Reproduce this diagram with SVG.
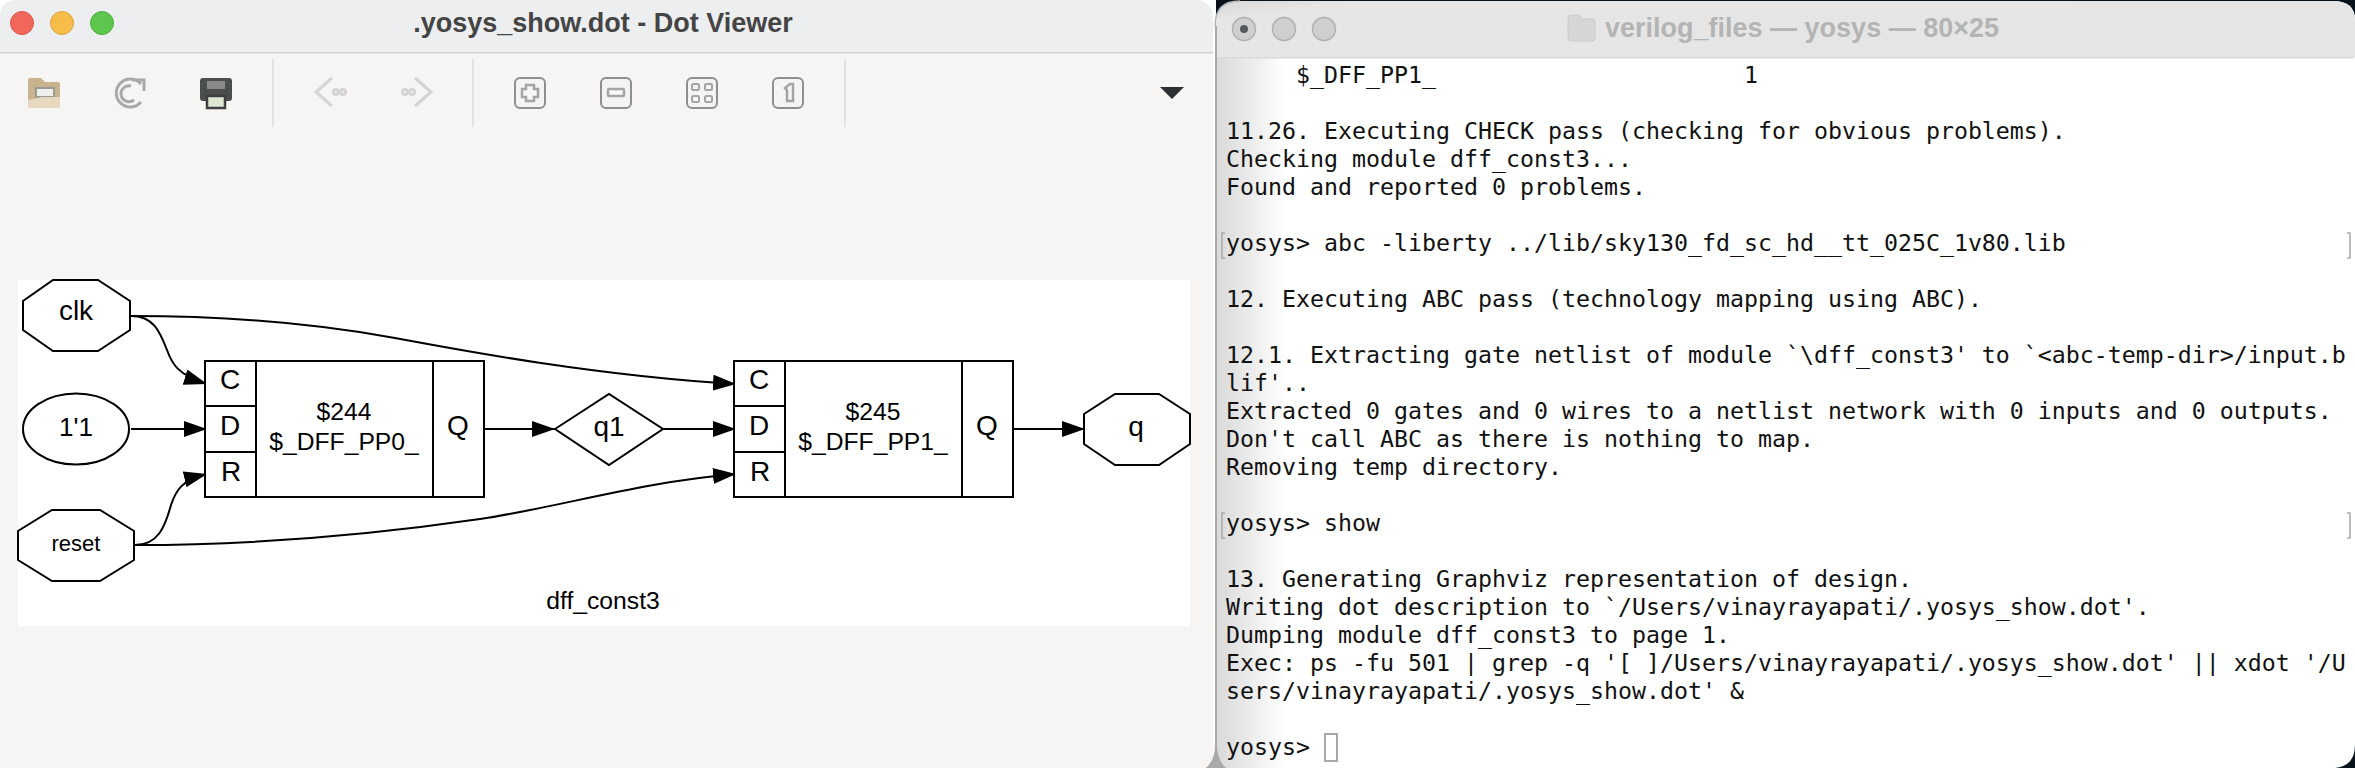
<svg xmlns="http://www.w3.org/2000/svg" width="2355" height="768" viewBox="0 0 2355 768">
<style>
.g{font-family:"Liberation Sans",Arial,sans-serif;fill:#000;text-anchor:middle;font-size:24.7px}
.p{font-size:28px}
.s{fill:#fff;stroke:#000;stroke-width:2}
.b{fill:none;stroke:#000;stroke-width:2}
.w{fill:none;stroke:#000;stroke-width:2}
.t{font-family:"DejaVu Sans Mono",monospace;font-size:23.25px;fill:#111;white-space:pre}
.mk{fill:none;stroke:#a8a8a8;stroke-width:1.5}
.btn{fill:#f4f4f3;stroke:#8f8f8f;stroke-width:2}
.ic{fill:#f6f6f6;stroke:#a4a4a4;stroke-width:2.5}
.ch{fill:none;stroke:#d4d4d4;stroke-width:3}
.sep{stroke:#dcdbd9;stroke-width:1.5}
</style>
<defs>
<marker id="a" markerUnits="userSpaceOnUse" markerWidth="24" markerHeight="16" refX="23" refY="8" orient="auto"><path d="M0 0L23 8L0 16Z" fill="#000"/></marker>
<linearGradient id="sh" x1="0" x2="1" y1="0" y2="0"><stop offset="0" stop-color="#d9d9d9"/><stop offset="1" stop-color="#fff"/></linearGradient>
<linearGradient id="tb" x1="0" x2="1" y1="0" y2="0.4"><stop offset="0" stop-color="#d8d8d8"/><stop offset="0.12" stop-color="#e6e6e6"/><stop offset="1" stop-color="#e5e5e5"/></linearGradient>
<filter id="bl" x="-10%" y="-10%" width="120%" height="120%"><feGaussianBlur stdDeviation="0.7"/></filter>
</defs>

<g id="backdrop">
<rect width="2355" height="768" fill="#06121c"/>
<rect width="1216" height="768" fill="#fff"/>
</g>

<g id="dot-viewer-window">
<path d="M0 18Q0 0 18 0H1195Q1213 0 1213 20V768H0Z" fill="#f6f5f4"/>
<path d="M0 18Q0 0 18 0H1195Q1213 0 1213 20V52H0Z" fill="#edeef0"/>
<rect y="52" width="1213" height="1.5" fill="#d6d4d2"/>
<circle cx="22" cy="23" r="11.5" fill="#f2675c" stroke="#dd5448"/>
<circle cx="62" cy="23" r="11.5" fill="#f7bd4b" stroke="#dea234"/>
<circle cx="102" cy="23" r="11.5" fill="#5dc64e" stroke="#4dae3f"/>
<text x="603" y="32" text-anchor="middle" font-family="Liberation Sans, Arial, sans-serif" font-weight="700" font-size="27" fill="#444">.yosys_show.dot - Dot Viewer</text>
<g id="toolbar">
<line class="sep" x1="273" y1="59" x2="273" y2="127"/>
<line class="sep" x1="473" y1="59" x2="473" y2="127"/>
<line class="sep" x1="845" y1="59" x2="845" y2="127"/>
<g filter="url(#bl)">
<path d="M28 80Q28 78 30 78H41L45 82H58Q60 82 60 84V106Q60 108 58 108H30Q28 108 28 106Z" fill="#c7b48f"/>
<rect x="36" y="88" width="18" height="9" fill="#eee" stroke="#9a9a90" stroke-width="2"/>
<path d="M28 100L42 97H60V106Q60 108 58 108H30Q28 108 28 106Z" fill="#e6d9bf"/>
<path d="M141 84A14 14 0 1 0 141 102M131 86A8 8 0 1 0 134 100" fill="none" stroke="#a9a9a9" stroke-width="3"/>
<path d="M132 80H144V91" fill="none" stroke="#a9a9a9" stroke-width="3"/>
<rect x="200" y="78" width="32" height="23" rx="3" fill="#4a4d4d"/>
<rect x="207" y="81" width="18" height="8" fill="#8a8a8a"/>
<rect x="207" y="96" width="18" height="12" fill="#dfe8d4" stroke="#3c3f3f" stroke-width="2.5"/>
<path class="ch" d="M332 78L316 92L332 106"/>
<circle cx="336" cy="92" r="2.5" class="ch" stroke-width="1.5"/><circle cx="343" cy="92" r="2.5" class="ch" stroke-width="1.5"/>
<path class="ch" d="M415 78L431 92L415 106"/>
<circle cx="405" cy="92" r="2.5" class="ch" stroke-width="1.5"/><circle cx="412" cy="92" r="2.5" class="ch" stroke-width="1.5"/>
<rect class="btn" x="515" y="78" width="30" height="30" rx="5"/>
<path class="ic" d="M526 85H534V89H538V97H534V101H526V97H522V89H526Z"/>
<rect class="btn" x="601" y="78" width="30" height="30" rx="5"/>
<rect class="ic" x="608" y="89" width="16" height="7" rx="1"/>
<rect class="btn" x="687" y="78" width="30" height="30" rx="5"/>
<g class="ic" style="stroke-width:2">
<rect x="692" y="84" width="7" height="6" rx="1.5"/><rect x="705" y="84" width="7" height="6" rx="1.5"/>
<rect x="692" y="96" width="7" height="6" rx="1.5"/><rect x="705" y="96" width="7" height="6" rx="1.5"/>
</g>
<rect class="btn" x="773" y="78" width="30" height="30" rx="5"/>
<path class="ic" d="M785 88L790 84H793V101H787V90Z"/>
</g>
<path d="M1160 87H1184L1172 99Z" fill="#2d2f33"/>
</g>
</g>

<rect id="graph-canvas" x="18" y="280" width="1172" height="346" fill="#fff"/>

<g id="connectors">
<path class="w" marker-end="url(#a)" d="M131 316C154 316 160 332 167 350C172 364 178 375 207 384"/>
<path class="w" marker-end="url(#a)" d="M131 316C250 316 330 326 395 338C470 352 600 376 736 384"/>
<path class="w" marker-end="url(#a)" d="M131 429H207"/>
<path class="w" marker-end="url(#a)" d="M135 545C158 545 165 527 171 505C176 490 182 480 207 474"/>
<path class="w" marker-end="url(#a)" d="M135 545C250 545 370 535 480 519C560 507 640 482 736 474"/>
<path class="w" marker-end="url(#a)" d="M485 429H555"/>
<path class="w" marker-end="url(#a)" d="M663 429H736"/>
<path class="w" marker-end="url(#a)" d="M1013 429H1085"/>
</g>

<g id="node-clk">
<path class="s" d="M53 280H98L130 301V330L98 351H53L23 330V301Z"/>
<text class="g p" x="76" y="320">clk</text>
</g>
<g id="node-const">
<ellipse class="s" cx="76" cy="429" rx="53" ry="35.5"/>
<text class="g" style="font-size:26px" x="76" y="436">1'1</text>
</g>
<g id="node-reset">
<path class="s" d="M52 510H100L134 531V560L100 581H52L18 560V531Z"/>
<text class="g" style="font-size:22px" x="76" y="551">reset</text>
</g>
<g id="node-dff0">
<rect class="s" x="205" y="361" width="279" height="136"/>
<path class="b" d="M256 361V497M433 361V497M205 406H256M205 452H256"/>
<text class="g p" x="230" y="389">C</text>
<text class="g p" x="230" y="435">D</text>
<text class="g p" x="231" y="481">R</text>
<text class="g" x="344" y="420">$244</text>
<text class="g" x="344" y="450">$_DFF_PP0_</text>
<text class="g p" x="458" y="435">Q</text>
</g>
<g id="node-q1">
<path class="s" d="M555 429L609 394L663 429L609 465Z"/>
<text class="g p" x="609" y="436">q1</text>
</g>
<g id="node-dff1">
<rect class="s" x="734" y="361" width="279" height="136"/>
<path class="b" d="M785 361V497M962 361V497M734 406H785M734 452H785"/>
<text class="g p" x="759" y="389">C</text>
<text class="g p" x="759" y="435">D</text>
<text class="g p" x="760" y="481">R</text>
<text class="g" x="873" y="420">$245</text>
<text class="g" x="873" y="450">$_DFF_PP1_</text>
<text class="g p" x="987" y="435">Q</text>
</g>
<g id="node-q">
<path class="s" d="M1115 394H1159L1190 414V444L1159 465H1115L1084 444V414Z"/>
<text class="g p" x="1136" y="436">q</text>
</g>
<text class="g" x="603" y="609">dff_const3</text>

<g id="terminal-window">
<path d="M1215 26Q1215 1 1240 1H2333Q2355 1 2355 20V745Q2355 766 2335 768H1215Z" fill="#fff"/>
<path d="M1215 26Q1215 1 1240 1H2333Q2355 1 2355 20V57H1215Z" fill="url(#tb)"/>
<rect x="1216" y="58" width="70" height="710" fill="url(#sh)"/>
<rect x="1215" y="57" width="1139" height="1.5" fill="#d9d9d9"/>
<path d="M1215 26Q1215 1 1240 1" fill="none" stroke="#b8b8b8" stroke-width="1.5"/>
<path d="M1215 26V745Q1215 760 1206 768H1226Q1217 760 1217 745V26Z" fill="#a9a9a9"/>
<circle cx="1244" cy="29" r="11.5" fill="#cfcfcf" stroke="#b0b0b0" stroke-width="1.5"/>
<circle cx="1244" cy="29" r="4" fill="#55595e"/>
<circle cx="1284" cy="29" r="11.5" fill="#cfcfcf" stroke="#b0b0b0" stroke-width="1.5"/>
<circle cx="1324" cy="29" r="11.5" fill="#cfcfcf" stroke="#b0b0b0" stroke-width="1.5"/>
<path d="M1568 18Q1568 15 1571 15H1579L1583 19H1592Q1595 19 1595 22V38Q1595 41 1592 41H1571Q1568 41 1568 38Z" fill="#d6d6d6" stroke="#cacaca"/>
<text x="1802" y="37" text-anchor="middle" font-family="Liberation Sans, Arial, sans-serif" font-weight="700" font-size="27" fill="#b4b4b4">verilog_files — yosys — 80×25</text>
<g id="terminal-text">
<text class="t" x="1226" y="83" xml:space="preserve">     $_DFF_PP1_                      1</text>
<text class="t" x="1226" y="139">11.26. Executing CHECK pass (checking for obvious problems).</text>
<text class="t" x="1226" y="167">Checking module dff_const3...</text>
<text class="t" x="1226" y="195">Found and reported 0 problems.</text>
<text class="t" x="1226" y="251">yosys&gt; abc -liberty ../lib/sky130_fd_sc_hd__tt_025C_1v80.lib</text>
<text class="t" x="1226" y="307">12. Executing ABC pass (technology mapping using ABC).</text>
<text class="t" x="1226" y="363">12.1. Extracting gate netlist of module `\dff_const3' to `&lt;abc-temp-dir&gt;/input.b</text>
<text class="t" x="1226" y="391">lif'..</text>
<text class="t" x="1226" y="419">Extracted 0 gates and 0 wires to a netlist network with 0 inputs and 0 outputs.</text>
<text class="t" x="1226" y="447">Don't call ABC as there is nothing to map.</text>
<text class="t" x="1226" y="475">Removing temp directory.</text>
<text class="t" x="1226" y="531">yosys&gt; show</text>
<text class="t" x="1226" y="587">13. Generating Graphviz representation of design.</text>
<text class="t" x="1226" y="615">Writing dot description to `/Users/vinayrayapati/.yosys_show.dot'.</text>
<text class="t" x="1226" y="643">Dumping module dff_const3 to page 1.</text>
<text class="t" x="1226" y="671">Exec: ps -fu 501 | grep -q '[ ]/Users/vinayrayapati/.yosys_show.dot' || xdot '/U</text>
<text class="t" x="1226" y="699">sers/vinayrayapati/.yosys_show.dot' &amp;</text>
<text class="t" x="1226" y="755">yosys&gt;</text>
</g>
<rect x="1325" y="734" width="12" height="27" fill="none" stroke="#a8a8a8" stroke-width="2"/>
<path class="mk" d="M1225 233H1222V258H1225M2347 233H2350V258H2347M1225 513H1222V538H1225M2347 513H2350V538H2347"/>
</g>
</svg>
